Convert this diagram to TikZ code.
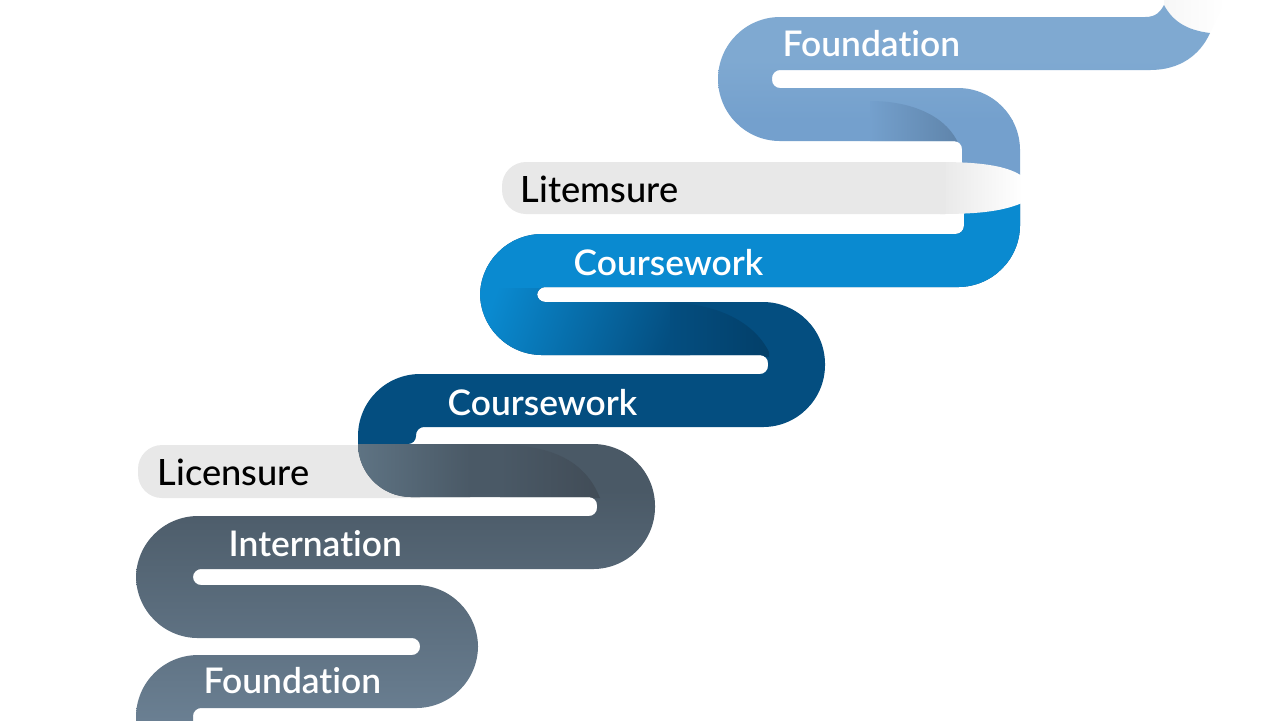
\documentclass[tikz,border=0pt]{standalone}
\usepackage{fontspec}
\setmainfont[Ligatures=NoCommon]{Lato}
\newfontfamily\medfont[Ligatures=NoCommon]{Lato Medium}
\newfontfamily\semifont[Ligatures=NoCommon]{Lato Semibold}
\definecolor{skyband}{HTML}{7FA9D1}
\definecolor{skylow}{HTML}{74A0CD}
\definecolor{skyshadow}{HTML}{5F84AA}
\definecolor{azure}{HTML}{0A8AD0}
\definecolor{navy}{HTML}{044E80}
\definecolor{navyshadow}{HTML}{033F69}
\definecolor{slatedark}{HTML}{4A5966}
\definecolor{slateshadow}{HTML}{414C57}
\definecolor{slatemid}{HTML}{5E7383}
\definecolor{slatelight}{HTML}{6A7F92}
\definecolor{pillgrey}{HTML}{E8E8E8}
\tikzset{
  bigbend/.style={rounded corners=0.62cm},
  slotend/.style={rounded corners=0.08cm},
  pillend/.style={rounded corners=0.24cm},
  darklabel/.style={anchor=base west,inner sep=0pt,text=black,font=\fontsize{10.3}{12}\medfont},
  lightlabel/.style={anchor=base west,inner sep=0pt,text=white,font=\fontsize{10.05}{12}\semifont}
}
\newcommand{\skypath}{(1164,5) .. controls (1160,12) and (1156,17) .. (1145,17)
  [bigbend] -- (718,17) -- (718,141) [slotend] -- (962,141) [sharp corners] -- (962,178) -- (1020,178)
  [bigbend] -- (1020,88) [slotend] -- (772,88) -- (772,70) [sharp corners] -- (1150,70)
  .. controls (1180,70) and (1200,55) .. (1210,33) .. controls (1185,30) and (1172,20) .. (1164,5) -- cycle}
\newcommand{\bluepath}{(1020,195) [bigbend] -- (1020,287) [slotend] -- (537,287) -- (537,302)
  [bigbend] -- (825,302) -- (825,427) [slotend] -- (416,427) -- (416,444) [sharp corners] -- (358,444)
  [bigbend] -- (358,374) [slotend] -- (768,374) -- (768,355) [bigbend] -- (480,355) -- (480,234)
  [slotend] -- (964,234) [sharp corners] -- (964,195) -- cycle}
\newcommand{\slatepath}{(358,444) [bigbend] -- (655,444) -- (655,569) [slotend] -- (193,569) -- (193,585)
  [bigbend] -- (478,585) -- (478,708) [slotend] -- (193,708) [sharp corners] -- (193,740) -- (136,740)
  [bigbend] -- (136,655) [slotend] -- (420,655) -- (420,638) [bigbend] -- (136,638) -- (136,516)
  [slotend] -- (597,516) -- (597,497) [rounded corners=0.53cm] -- (358,497) [sharp corners] -- cycle}
\begin{document}
\begin{tikzpicture}[x=0.01cm,y=-0.01cm]
  \clip (0,0) rectangle (1280,720);
  \fill[white] (0,0) rectangle (1280,720);

  % top corner
  \shade[left color=pillgrey!35,right color=white] (1164,0) -- (1164,5) .. controls (1172,20) and (1185,30) .. (1210,33) -- (1225,0) -- cycle;

  % top ribbon
  \begin{scope}
    \clip \skypath;
    \fill[skyband] (700,0) rectangle (1220,60);
    \shade[top color=skyband,bottom color=skylow] (700,60) rectangle (1220,120);
    \fill[skylow] (700,120) rectangle (1220,180);
    \shade[left color=skylow,right color=skyshadow] (870,101) .. controls (915,101) and (948,118) .. (959,145) -- (870,145) -- cycle;
  \end{scope}

  % blue ribbon
  \begin{scope}
    \clip \bluepath;
    \fill[navy] (340,190) rectangle (1030,450);
    \shade[left color=azure,middle color=navy,right color=navy,shading angle=70] (470,288) rectangle (690,360);
    \fill[azure] (470,190) rectangle (1030,288);
    \shade[left color=navy,right color=navyshadow] (670,303) .. controls (710,303) and (752,318) .. (769,352) -- (769,357) -- (670,357) -- cycle;
  \end{scope}

  % grey bars go under and over the ribbons
  \fill[pillgrey] (420,445) [pillend] -- (138,445) -- (138,498) [sharp corners] -- (420,498) -- cycle;

  % slate ribbon
  \begin{scope}
    \clip \slatepath;
    \shade[top color=slatedark,bottom color=slatelight] (120,490) rectangle (670,720);
    \fill[slatedark] (120,440) rectangle (670,490);
    \shade[left color=slatemid,right color=slatedark] (358,440) rectangle (470,498);
    \shade[left color=slatedark,right color=slateshadow] (500,445) .. controls (550,445) and (585,460) .. (600,498) -- (500,498) -- cycle;
  \end{scope}

  % upper grey bar
  \shade[left color=pillgrey,right color=white] (940,162) .. controls (990,162) and (1010,168) .. (1022,176)
    -- (1022,203) .. controls (1005,210) and (985,214) .. (940,214) -- cycle;
  \fill[pillgrey] (945,162) [pillend] -- (502,162) -- (502,214) [sharp corners] -- (945,214) -- cycle;

  \node[lightlabel] (foundationtop) at (782,56) {Foundation};
  \node[darklabel] (litemsure) at (520,202) {Litemsure};
  \node[lightlabel] (courseworkup) at (573,275) {Coursework};
  \node[lightlabel] (courseworkdown) at (447,415) {Coursework};
  \node[darklabel] (licensure) at (157,485) {Licensure};
  \node[lightlabel] (internation) at (228,556) {Internation};
  \node[lightlabel] (foundationlow) at (203,693) {Foundation};
\end{tikzpicture}
\end{document}
